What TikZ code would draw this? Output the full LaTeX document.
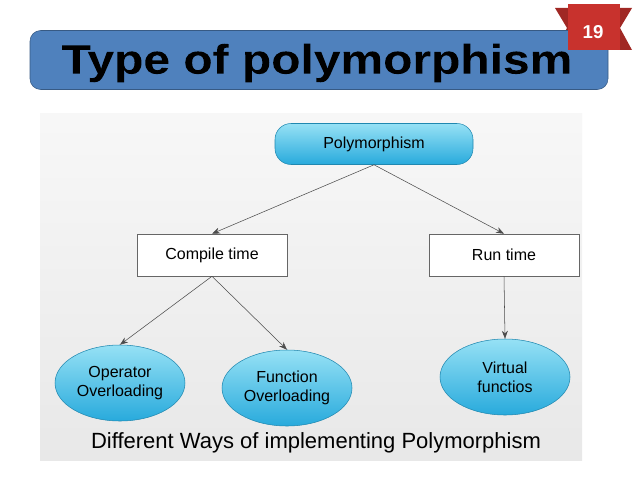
\documentclass[tikz,border=0pt]{standalone}
\usepackage{fontspec}
\setmainfont{Liberation Sans}
\usetikzlibrary{shapes.geometric,arrows.meta,shadings}
\definecolor{titleblue}{RGB}{79,129,189}
\definecolor{ribbon}{RGB}{200,50,45}
\definecolor{cyanA}{RGB}{150,225,245}
\definecolor{cyanB}{RGB}{40,170,220}
\tikzset{
  box/.style={draw=gray!80!black,fill=white,minimum width=150*0.75pt,minimum height=42*0.75pt,font=\fontsize{12}{14}\selectfont},
  oval/.style={ellipse,draw=cyanB!80!black,top color=cyanA,bottom color=cyanB,minimum width=130*0.75pt,minimum height=76*0.75pt,align=center,inner sep=0pt,font=\fontsize{12}{14}\selectfont},
  conn/.style={-{Stealth[length=6pt]},draw=gray!60!black,thin}
}
\begin{document}
\begin{tikzpicture}[x=0.75pt,y=-0.75pt]
\useasboundingbox (0,0) rectangle (638,478);
\fill[white] (0,0) rectangle (638,478);
% ribbon badge
\fill[ribbon!80!black] (555,8) -- (632,8) -- (620,28) -- (632,50) -- (555,50) -- (567,28) -- cycle;
% title
\node[draw=titleblue!70!black,fill=titleblue,rounded corners=8pt,minimum width=578*0.75pt,minimum height=59*0.75pt] (title) at (319,60) {};
\fill[ribbon] (568,4) rectangle (620,50);
\node[text=white,font=\bfseries\fontsize{14}{16}\selectfont] (num) at (593,32) {19};
\node[font=\bfseries\fontsize{31}{34}\selectfont,xscale=1.16,draw=black,line width=1.2pt,draw opacity=0] (ttext) at (317,63) {\special{pdf:literal 2 Tr 1.1 w}Type of polymorphism\special{pdf:literal 0 Tr}};
% diagram background
\shade[top color=gray!6,bottom color=gray!18] (40,113) rectangle (582,460);
\node[draw=cyanB!80!black,rounded corners=12pt,top color=cyanA,bottom color=cyanB,minimum width=198*0.75pt,minimum height=41*0.75pt,font=\fontsize{12}{14}\selectfont] (poly) at (374,144) {Polymorphism};
\node[box] (ct) at (212,255) {Compile time};
\node[box] (rt) at (504,255) {Run time};
\node[oval] (op) at (120,383) {Operator\\Overloading};
\node[oval] (fo) at (287,388) {Function\\Overloading};
\node[oval] (vf) at (505,377) {Virtual\\functios};
\draw[conn] (poly.south) -- (ct.north);
\draw[conn] (poly.south) -- (rt.north);
\draw[conn] (ct.south) -- (op.north);
\draw[conn] (ct.south) -- (fo.north);
\draw[conn] (rt.south) -- (vf.north);
\node[font=\fontsize{16.5}{19}\selectfont] (cap) at (316,443) {Different Ways of implementing Polymorphism};
\end{tikzpicture}
\end{document}
